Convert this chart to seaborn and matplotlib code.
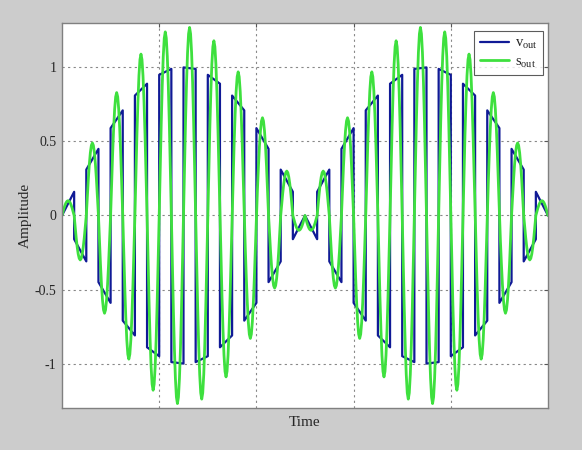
import numpy as np
import pandas as pd
import matplotlib
matplotlib.use("Agg")
import matplotlib.pyplot as plt
import seaborn as sns

# Envelope magnitudes at the 41 half-cycle boundaries
envelope_levels = [0.00, 0.16, 0.31, 0.45, 0.59, 0.71, 0.81, 0.89, 0.95, 0.99,
                   1.00, 0.99, 0.95, 0.89, 0.81, 0.71, 0.59, 0.45, 0.31, 0.16,
                   0.00, 0.16, 0.31, 0.45, 0.59, 0.71, 0.81, 0.89, 0.95, 0.99,
                   1.00, 0.99, 0.95, 0.89, 0.81, 0.71, 0.59, 0.45, 0.31, 0.16,
                   0.00]
# Polarity of each of the 40 half-cycles
half_cycle_signs = [1, -1, 1, -1, 1, -1, 1, -1, 1, -1,
                    1, -1, 1, -1, 1, -1, 1, -1, 1, -1,
                    -1, 1, -1, 1, -1, 1, -1, 1, -1, 1,
                    -1, 1, -1, 1, -1, 1, -1, 1, -1, 1]
# Peak of s_out in each half-cycle
green_peaks = [0.10, 0.30, 0.49, 0.66, 0.83, 0.97, 1.09, 1.18, 1.24, 1.27,
               1.27, 1.24, 1.18, 1.09, 0.97, 0.83, 0.66, 0.49, 0.30, 0.10,
               0.10, 0.30, 0.49, 0.66, 0.83, 0.97, 1.09, 1.18, 1.24, 1.27,
               1.27, 1.24, 1.18, 1.09, 0.97, 0.83, 0.66, 0.49, 0.30, 0.10]
yticks = [-1, -0.5, 0, 0.5, 1]
ytick_labels = ["-1", "-0.5", "0", "0.5", "1"]
legend_labels = [r"v$_{\rm out}$", r"s$_{\rm out}$"]

# Build v_out polyline from boundary levels
vt, vv = [], []
for i, s in enumerate(half_cycle_signs):
    vt += [i, i + 1]
    vv += [s * envelope_levels[i], s * envelope_levels[i + 1]]
v_df = pd.DataFrame({"t": vt, "v": vv})

# Build s_out: half-sine lobe per half-cycle scaled to peak
st, sv = [], []
u = np.linspace(0, 1, 13)[:-1]
for i, (s, p) in enumerate(zip(half_cycle_signs, green_peaks)):
    st += list(i + u)
    sv += list(s * p * np.sin(np.pi * u))
st.append(len(green_peaks)); sv.append(0.0)
s_df = pd.DataFrame({"t": st, "v": sv})

sns.set_style("white")
plt.rcParams["font.family"] = ["Liberation Serif", "DejaVu Serif"]
plt.rcParams["mathtext.fontset"] = "custom"
plt.rcParams["mathtext.rm"] = "Liberation Serif"
plt.rcParams["mathtext.it"] = "Liberation Serif:italic"

fig = plt.figure(figsize=(5.82, 4.5), dpi=100, facecolor="#cccccc")
ax = fig.add_axes([62 / 582, 1 - 408 / 450, (548 - 62) / 582, (408 - 23) / 450])
ax.set_facecolor("white")

sns.lineplot(data=v_df, x="t", y="v", ax=ax, color="#101a96", lw=1.6,
             sort=False, estimator=None, label=legend_labels[0])
sns.lineplot(data=s_df, x="t", y="v", ax=ax, color="#3ee03e", lw=2.0,
             sort=False, estimator=None, label=legend_labels[1])

ax.set_xlim(0, 40)
ax.set_ylim(-1.3, 1.3)
ax.set_xticks([8, 16, 24, 32])
ax.set_xticklabels([])
ax.set_yticks(yticks)
ax.set_yticklabels(ytick_labels)
ax.tick_params(direction="in", length=3, top=True, right=True, labelsize=10,
               color="#555555", pad=4)
ax.grid(True, linestyle=(0, (2, 3)), color="#888888", lw=0.8)
for sp in ax.spines.values():
    sp.set_color("#808080")
    sp.set_linewidth(1.0)
ax.set_xlabel("Time", fontsize=11, labelpad=2)
ax.set_ylabel("Amplitude", fontsize=11, labelpad=2)

leg = ax.legend(loc="upper right", fontsize=10.5, frameon=True, fancybox=False,
                handlelength=2.0, handletextpad=0.4, borderpad=0.4,
                labelspacing=0.3, borderaxespad=0.0,
                bbox_to_anchor=(0.99, 0.98))
leg.get_frame().set_edgecolor("#333333")
leg.get_frame().set_linewidth(0.8)

fig.savefig("out.png", dpi=100, facecolor=fig.get_facecolor())
